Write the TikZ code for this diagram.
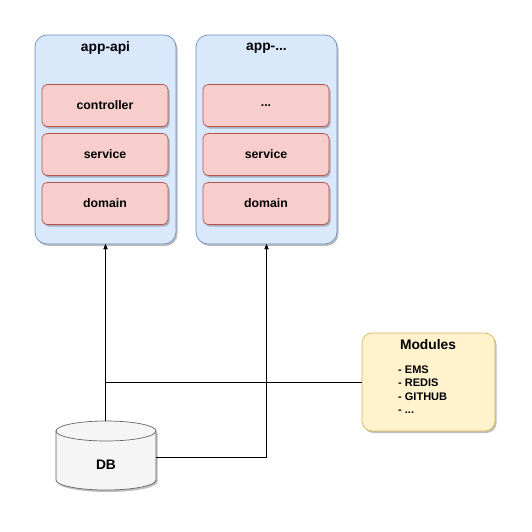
\documentclass[tikz,border=0pt]{standalone}
\usepackage{fontspec}
\setmainfont{Liberation Sans}
\usetikzlibrary{shadows,arrows.meta}
\definecolor{bluefill}{HTML}{DAE8FC}
\definecolor{bluestroke}{HTML}{6C8EBF}
\definecolor{redfill}{HTML}{F8CECC}
\definecolor{redstroke}{HTML}{B85450}
\definecolor{yelfill}{HTML}{FFF2CC}
\definecolor{yelstroke}{HTML}{D6B656}
\definecolor{dbfill}{HTML}{F5F5F5}
\definecolor{dbstroke}{HTML}{666666}
\tikzset{
  shd/.style={drop shadow={shadow xshift=1.5pt,shadow yshift=-2pt,opacity=0.25,fill=black}},
  container/.style={draw=bluestroke,fill=bluefill,rounded corners=12pt,shd,line width=0.7pt},
  layer/.style={draw=redstroke,fill=redfill,rounded corners=5pt,shd,minimum width=126pt,minimum height=42pt,font=\bfseries\fontsize{12.3}{14}\selectfont,line width=0.7pt},
  modbox/.style={draw=yelstroke,fill=yelfill,rounded corners=10pt,shd,line width=0.7pt},
  title/.style={font=\bfseries\fontsize{13.8}{16}\selectfont},
  conn/.style={draw=black,line width=0.6pt},
  arr/.style={conn,-{Triangle[length=5pt,width=4pt]}}
}
\begin{document}
\begin{tikzpicture}[x=1pt,y=-1pt]
\useasboundingbox (0,0) rectangle (532,532);
% containers
\path[container] (35,35) rectangle (176,244);
\node[inner sep=0,minimum width=141pt,minimum height=209pt] (api) at (105.5,139.5) {};
\node[title] (apit) at (105.5,48) {app-api};
\path[container] (196,35) rectangle (337,244);
\node[inner sep=0,minimum width=141pt,minimum height=209pt] (app2) at (266.5,139.5) {};
\node[title] (app2t) at (266.5,48) {app-...};
% layers
\node[layer] (ctrl) at (105,105.5) {controller};
\node[layer] (svc1) at (105,154.5) {service};
\node[layer] (dom1) at (105,203.5) {domain};
\node[layer] (dots) at (266,105.5) {...};
\node[layer] (svc2) at (266,154.5) {service};
\node[layer] (dom2) at (266,203.5) {domain};
% modules
\path[modbox] (362,333) rectangle (495,431);
\node[inner sep=0,minimum width=133pt,minimum height=98pt] (mod) at (428.5,382) {};
\node[title] (modt) at (428,345) {Modules};
\node[font=\bfseries\fontsize{11}{13.5}\selectfont,align=left,anchor=north west,inner sep=0] (modl) at (398,365.5) {- EMS\\- REDIS\\- GITHUB\\- ...};
% DB cylinder
\path[fill=black,opacity=0.25] (57.5,433) -- (57.5,482) arc[start angle=180,end angle=360,x radius=50pt,y radius=10pt] -- (157.5,433) -- cycle;
\path[draw=dbstroke,fill=dbfill,line width=0.7pt] (56,431) -- (56,480) arc[start angle=180,end angle=360,x radius=50pt,y radius=10pt] -- (156,431) arc[start angle=0,end angle=180,x radius=50pt,y radius=10pt] -- cycle;
\draw[dbstroke,line width=0.7pt] (56,431) arc[start angle=180,end angle=360,x radius=50pt,y radius=10pt];
\node[inner sep=0,minimum width=100pt,minimum height=69pt] (db) at (106,455.5) {};
\node[title] (dbt) at (106,465) {DB};
% connectors
\coordinate (dbE) at (156,457);
\draw[arr] (db.north -| api.south) -- (api.south);
\draw[arr] (dbE) -| (app2.south);
\draw[arr] (mod.west) -| (api.south);
\draw[arr] (mod.west) -| (app2.south);
\end{tikzpicture}
\end{document}
